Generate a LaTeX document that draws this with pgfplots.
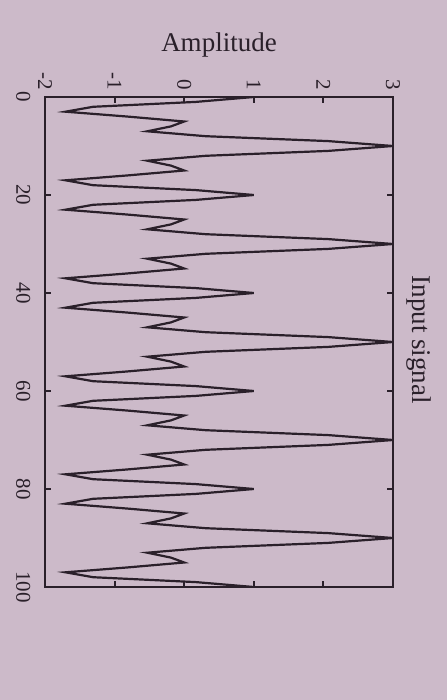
\documentclass[border=0pt]{standalone}
\usepackage{fontspec}
\setmainfont{Liberation Serif}
\usepackage{pgfplots}
\usepackage{pgfplotstable}
\pgfplotsset{compat=1.18}

\definecolor{paper}{RGB}{204,186,201}
\definecolor{ink}{RGB}{42,32,42}

% samples read off the (rotated) plot: n = sample index, a = amplitude
\pgfplotstableread{
n a
0 1.000
1 0.167
2 -1.309
3 -1.706
4 -0.809
5 0.000
6 -0.191
7 -0.530
8 0.309
9 2.069
10 3.000
11 2.069
12 0.309
13 -0.530
14 -0.191
15 0.000
16 -0.809
17 -1.706
18 -1.309
19 0.167
20 1.000
21 0.167
22 -1.309
23 -1.706
24 -0.809
25 0.000
26 -0.191
27 -0.530
28 0.309
29 2.069
30 3.000
31 2.069
32 0.309
33 -0.530
34 -0.191
35 0.000
36 -0.809
37 -1.706
38 -1.309
39 0.167
40 1.000
41 0.167
42 -1.309
43 -1.706
44 -0.809
45 0.000
46 -0.191
47 -0.530
48 0.309
49 2.069
50 3.000
51 2.069
52 0.309
53 -0.530
54 -0.191
55 0.000
56 -0.809
57 -1.706
58 -1.309
59 0.167
60 1.000
61 0.167
62 -1.309
63 -1.706
64 -0.809
65 0.000
66 -0.191
67 -0.530
68 0.309
69 2.069
70 3.000
71 2.069
72 0.309
73 -0.530
74 -0.191
75 0.000
76 -0.809
77 -1.706
78 -1.309
79 0.167
80 1.000
81 0.167
82 -1.309
83 -1.706
84 -0.809
85 0.000
86 -0.191
87 -0.530
88 0.309
89 2.069
90 3.000
91 2.069
92 0.309
93 -0.530
94 -0.191
95 0.000
96 -0.809
97 -1.706
98 -1.309
99 0.167
100 1.000
}\inputsignal

\begin{document}
\begin{tikzpicture}
% page background of the photographed print
\fill[paper] (-22.5pt,-56.5pt) rectangle (201pt,293.5pt);
\path[use as bounding box] (-22.5pt,-56.5pt) rectangle (201pt,293.5pt);
\begin{axis}[
  scale only axis, width=174pt, height=245pt,
  xmin=-2, xmax=3, ymin=0, ymax=100, y dir=reverse,
  xtick={-2,-1,0,1,2,3}, ytick={0,20,40,60,80,100},
  xticklabel pos=right,
  /pgf/number format/assume math mode=true,
  every tick label/.append style={font=\fontsize{10.5}{12}\selectfont, text=ink},
  xticklabel style={rotate=-90, anchor=east},
  yticklabel style={rotate=-90, anchor=north, outer sep=4pt},
  axis line style={ink, line width=1pt},
  every tick/.style={ink, line width=0.9pt},
  major tick length=3pt,
  xlabel={Amplitude},
  xlabel style={at={(axis description cs:0.5,1)}, anchor=south, yshift=16.5pt,
    font=\fontsize{13.5}{15}\selectfont, text=ink},
  title={Input signal},
  title style={at={(axis description cs:1.02,0.48)}, anchor=south, rotate=-90,
    font=\fontsize{13.5}{15}\selectfont, text=ink},
]
\addplot[ink, line width=1.1pt, line join=miter] table[x=a, y=n] {\inputsignal};
\end{axis}
\end{tikzpicture}
\end{document}
